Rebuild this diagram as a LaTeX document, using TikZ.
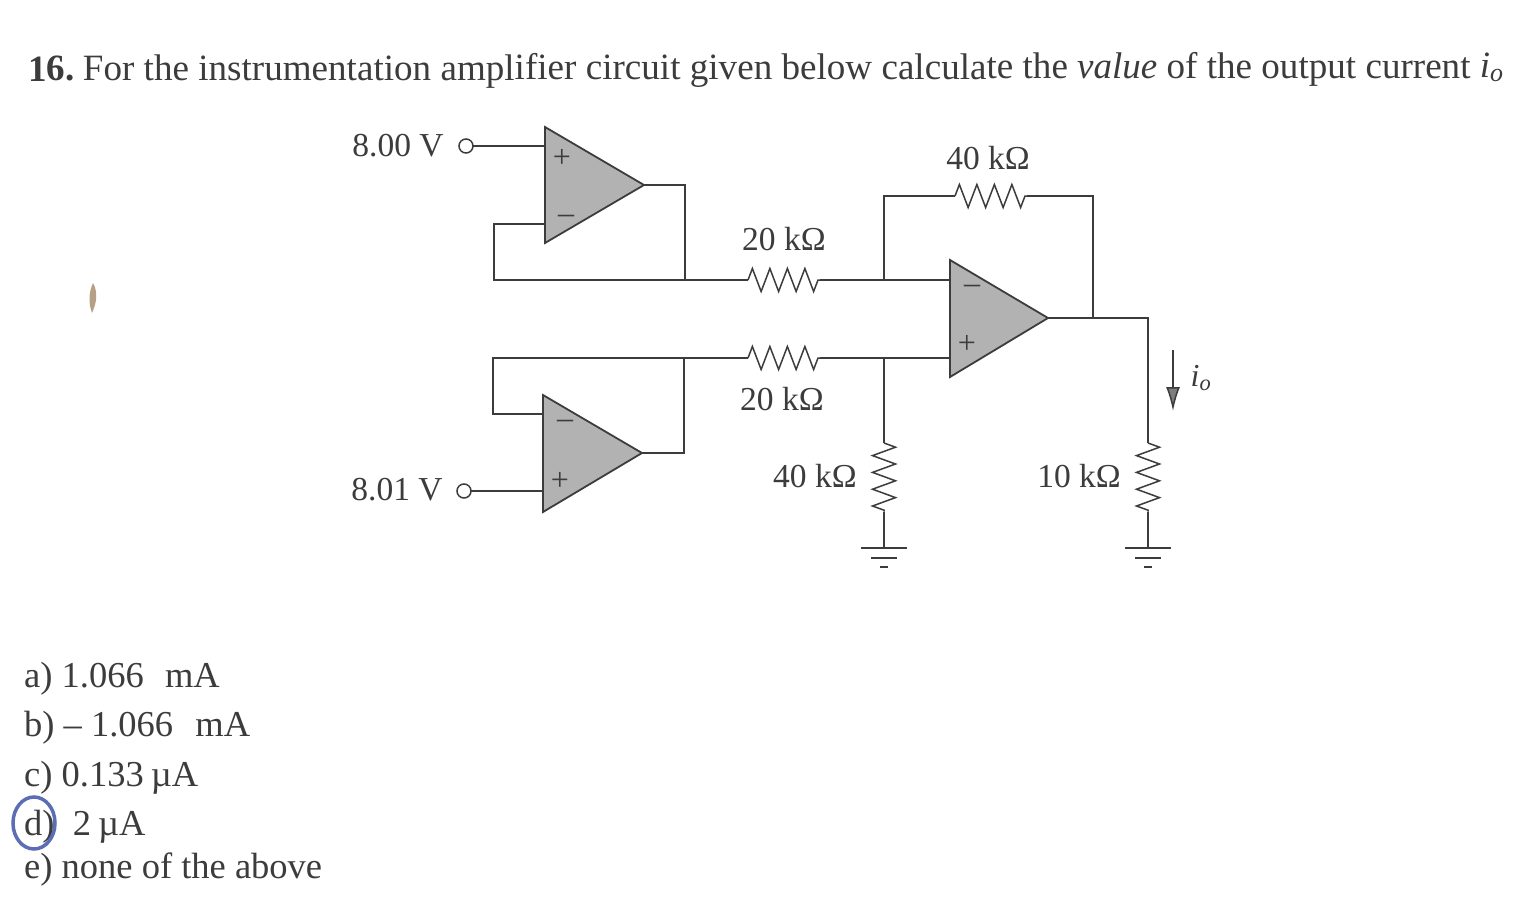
\documentclass[tikz,border=0pt]{standalone}
\usepackage{fontspec}
\setmainfont{Liberation Serif}
\usepackage{tikz}
\usetikzlibrary{decorations.pathmorphing,arrows.meta}
\definecolor{ink}{HTML}{3C3C3C}
\definecolor{ampgray}{HTML}{B2B2B2}
\definecolor{penblue}{HTML}{5B6DB5}
\definecolor{markbrown}{HTML}{B79F86}
\tikzset{
  wire/.style={draw=ink,line width=1.5pt},
  ampbox/.style={draw=ink,line width=1.8pt,fill=ampgray,line join=miter},
  res/.style={wire,decorate,decoration={zigzag,segment length=17.5pt,amplitude=11.5pt}},
  resv/.style={wire,decorate,decoration={zigzag,segment length=16.8pt,amplitude=11.5pt}},
  term/.style={circle,draw=ink,line width=1.5pt,fill=white,inner sep=0pt,minimum size=14pt},
  lab/.style={text=ink,font=\fontsize{33.5}{38}\selectfont,inner sep=0pt},
  opt/.style={text=ink,font=\fontsize{36.5}{40}\selectfont,anchor=base west,inner sep=0pt},
  sgn/.style={text=ink,font=\fontsize{32}{34}\selectfont,inner sep=0pt}
}
\begin{document}
\begin{tikzpicture}[x=1pt,y=-1pt]
\useasboundingbox (0,0) rectangle (1534,916);
\fill[white] (0,0) rectangle (1534,916);
  \node[text=ink,anchor=base west,inner sep=0pt,rotate=0.12,font=\fontsize{37.1}{40}\selectfont] (title) at (28,81)
    {\textbf{16.}\hspace{-4pt} For the instrumentation amplifier circuit given below calculate the \textit{value} of the output current \textit{i\textsubscript{o}}};
  % first amplifier
  \coordinate (ata) at (545,127);
  \coordinate (abo) at (545,243);
  \coordinate (ati) at (644,185);
  \coordinate (apl) at (545,146);
  \coordinate (ami) at (545,224);
  \coordinate (afl) at (494,224);
  \coordinate (afb) at (494,280);
  \coordinate (aou) at (685,185);
  \coordinate (ajn) at (685,280);
  % second amplifier
  \coordinate (bta) at (543,395);
  \coordinate (bbo) at (543,512);
  \coordinate (bti) at (642,453);
  \coordinate (bpl) at (543,491);
  \coordinate (bmi) at (543,414);
  \coordinate (bfl) at (493,414);
  \coordinate (bfb) at (493,358);
  \coordinate (bou) at (684,453);
  \coordinate (bjn) at (684,358);
  % output amplifier
  \coordinate (cta) at (950,260);
  \coordinate (cbo) at (950,377);
  \coordinate (cti) at (1048,318);
  \coordinate (cmi) at (950,280);
  \coordinate (cpl) at (950,358);
  \coordinate (cjm) at (884,280);
  \coordinate (cjp) at (884,358);
  \coordinate (cft) at (884,196);
  \coordinate (cfr) at (1093,196);
  \coordinate (cfo) at (1093,318);
  \coordinate (cou) at (1148,318);
  % resistor ends
  \coordinate (raa) at (748,280);
  \coordinate (rab) at (820,280);
  \coordinate (rba) at (748,358);
  \coordinate (rbb) at (820,358);
  \coordinate (rca) at (955,196);
  \coordinate (rcb) at (1027,196);
  \coordinate (rda) at (884,443);
  \coordinate (rdb) at (884,511.5);
  \coordinate (rea) at (1148,443);
  \coordinate (reb) at (1148,511.5);
  \coordinate (gda) at (884,548);
  \coordinate (gea) at (1148,548);
  \draw[wire] (apl) -- (466,146) node[term,pos=1] (ta) {};
  \draw[wire] (bpl) -- (464,491) node[term,pos=1] (tb) {};
  \draw[wire] (ami) -- (afl) -- (afb) -- (ajn) -- (raa);
  \draw[wire] (ati) -- (aou) -- (ajn);
  \draw[wire] (bmi) -- (bfl) -- (bfb) -- (bjn) -- (rba);
  \draw[wire] (bti) -- (bou) -- (bjn);
  \draw[res] (raa) -- (rab);
  \draw[res] (rba) -- (rbb);
  \draw[res] (rca) -- (rcb);
  \draw[resv] (rda) -- (rdb);
  \draw[resv] (rea) -- (reb);
  \draw[wire] (rab) -- (cmi);
  \draw[wire] (rbb) -- (cjp) -- (cpl);
  \draw[wire] (cjm) -- (cft) -- (rca);
  \draw[wire] (rcb) -- (cfr) -- (cfo);
  \draw[wire] (cti) -- (cou) -- (rea);
  \draw[wire] (cjp) -- (rda);
  \draw[wire] (rdb) -- (gda);
  \draw[wire] (reb) -- (gea);
  \draw[ampbox] (ata) -- (ati) -- (abo) -- cycle;
  \draw[ampbox] (bta) -- (bti) -- (bbo) -- cycle;
  \draw[ampbox] (cta) -- (cti) -- (cbo) -- cycle;
  % grounds
  \foreach \g in {gda,gea}{
    \draw[wire] ([xshift=-23pt]\g) -- ([xshift=23pt]\g);
    \draw[wire] ([xshift=-13pt,yshift=-10pt]\g) -- ([xshift=13pt,yshift=-10pt]\g);
    \draw[wire] ([xshift=-4pt,yshift=-19pt]\g) -- ([xshift=4pt,yshift=-19pt]\g);
  }
  \node[sgn] (apo) at (562,158) {+};
  \node[sgn] (amn) at (566,219) {--};
  \node[sgn] (bmn) at (565,424) {--};
  \node[sgn] (bpo) at (560,481) {+};
  \node[sgn] (cmn) at (972,289) {--};
  \node[sgn] (cpo) at (967,344) {+};
  \node[lab] (lta) at (398,146) {8.00 V};
  \node[lab] (ltb) at (397,490) {8.01 V};
  \node[lab] (lra) at (784,239) {20 kΩ};
  \node[lab] (lrb) at (782,399) {20 kΩ};
  \node[lab] (lrc) at (988,158) {40 kΩ};
  \node[lab] (lrd) at (815,476) {40 kΩ};
  \node[lab] (lre) at (1079,476) {10 kΩ};
  \coordinate (ioa) at (1173,350);
  \coordinate (iob) at (1173,411);
  \draw[wire,-{Latex[length=24pt,width=14pt,fill=ampgray!70!black]}] (ioa) -- (iob);
  \node[lab,font=\itshape\fontsize{32}{34}\selectfont] (lio) at (1201,378) {i\textsubscript{o}};
  % answers
  \node[opt] (opa) at (24,687) {a) 1.066\enspace\hspace{3pt}mA};
  \node[opt] (opb) at (24,736) {b) -- 1.066\enspace\hspace{4pt}mA};
  \node[opt] (opc) at (24,786) {c) 0.133 \hspace{-2pt}µA};
  \node[opt] (opd) at (24,835) {d)\enspace 2 \hspace{-2pt}µA};
  \node[opt] (ope) at (24,878) {e) none of the above};
  \draw[penblue,line width=3.5pt] (34,823) ellipse (21pt and 26pt);
  \fill[markbrown] (93,283) .. controls (98,292) and (97,302) .. (92,313) .. controls (88,302) and (89,292) .. (93,283) -- cycle;
\end{tikzpicture}
\end{document}
